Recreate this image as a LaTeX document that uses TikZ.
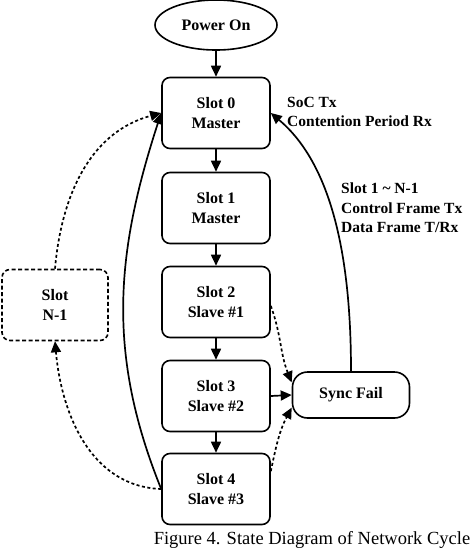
\documentclass[tikz,border=0pt]{standalone}
\usepackage{fontspec}
\setmainfont{Liberation Serif}
\usetikzlibrary{shapes.geometric,arrows.meta,calc}
\begin{document}
\begin{tikzpicture}[x=1pt,y=1pt,
  txt/.style={font=\fontsize{16}{20}\selectfont\bfseries, align=center},
  slotbox/.style={draw, line width=1.6pt, rounded corners=8pt, minimum width=108pt, minimum height=71pt, inner sep=0pt, txt},
  dslot/.style={slotbox, dashed, dash pattern=on 4pt off 2.5pt},
  arr/.style={line width=1.7pt, -{Triangle[length=11pt,width=10pt]}},
  darr/.style={arr, dash pattern=on 3pt off 2.5pt},
  lbl/.style={font=\fontsize{15.5}{19.5}\selectfont\bfseries, align=left, anchor=west, inner sep=0pt}
]
\useasboundingbox (0,0) rectangle (474,-552);
\node[draw, ellipse, line width=1.6pt, minimum width=122pt, minimum height=50pt, inner sep=0pt, txt] (pwr) at (216,-25) {Power On};
\node[slotbox] (s0) at (216,-113) {Slot 0\\Master};
\node[slotbox] (s1) at (216,-208) {Slot 1\\Master};
\node[slotbox] (s2) at (216,-302) {Slot 2\\Slave \#1};
\node[slotbox] (s3) at (216,-396) {Slot 3\\Slave \#2};
\node[slotbox] (s4) at (216,-489) {Slot 4\\Slave \#3};
\node[dslot, minimum width=106pt] (sn) at (55,-305) {Slot\\N-1};
\node[draw, line width=1.6pt, rounded corners=15pt, minimum width=117pt, minimum height=46pt, inner sep=0pt, txt] (sf) at (351,-395) {Sync Fail};

\node[lbl] (l1) at (287,-112) {SoC Tx\\Contention Period Rx};
\node[lbl] (l2) at (341,-208) {Slot 1 \textasciitilde{} N-1\\Control Frame Tx\\Data Frame T/Rx};

\node[font=\fontsize{18.5}{22}\selectfont, inner sep=0pt] (cap) at (312,-540) {Figure 4. State Diagram of Network Cycle};

\draw[arr] (pwr) -- (s0);
\draw[arr] (s0) -- (s1);
\draw[arr] (s1) -- (s2);
\draw[arr] (s2) -- (s3);
\draw[arr] (s3) -- (s4);
\draw[arr] (s3.east) -- (sf.west);
\draw[darr] (s2.-4) to[out=-70, in=112] (sf.168);
\draw[darr] (s4.18) to[out=78, in=-118] (sf.192);
\draw[arr] (sf.north) to[out=90, in=-40, looseness=0.85] (s0.east);
\draw[arr] (s4.west) to[out=112, in=-108] (s0.west);
\draw[darr] (s4.west) to[out=178, in=-85] (sn.south);
\draw[darr] (sn.north) to[out=85, in=195] (s0.west);
\end{tikzpicture}
\end{document}
